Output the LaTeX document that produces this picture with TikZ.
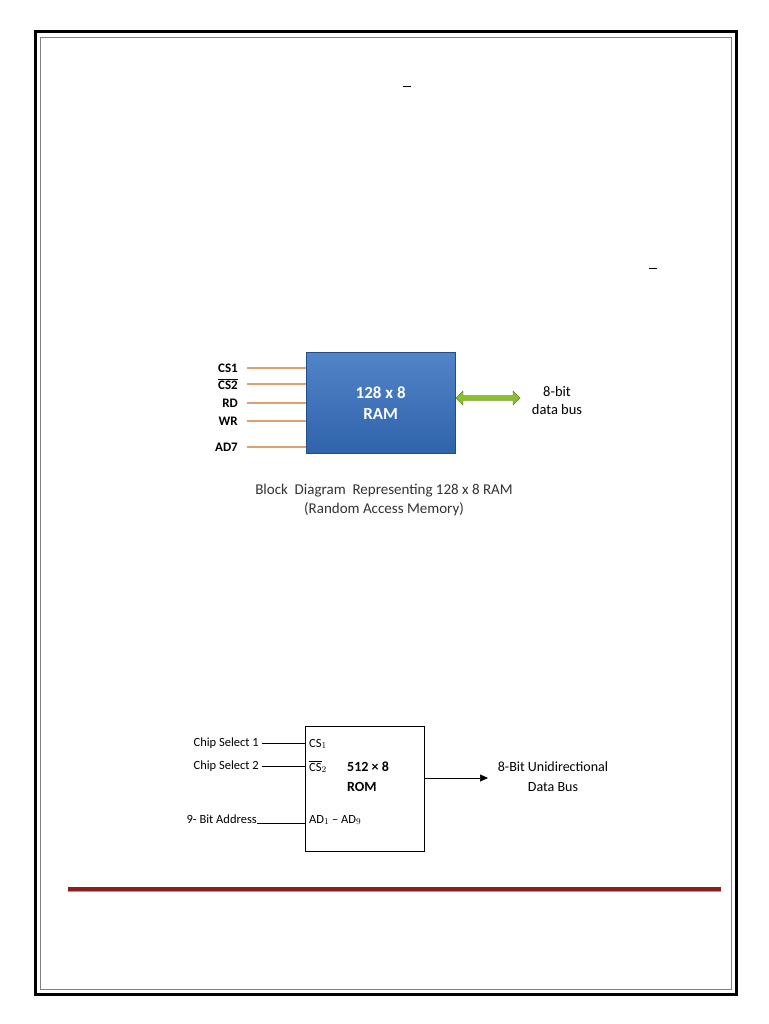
\documentclass[tikz,border=0pt]{standalone}
\usepackage{fontspec}
\setmainfont{Carlito}
\usetikzlibrary{arrows.meta,shapes.arrows}
\definecolor{ramblue}{RGB}{52,110,190}
\definecolor{wire}{RGB}{222,160,110}
\definecolor{busgreen}{RGB}{140,190,50}
\definecolor{rule}{RGB}{140,30,30}
\begin{document}
\begin{tikzpicture}[x=1pt,y=-1pt,
  lbl/.style={font=\fontsize{13}{15}\selectfont\bfseries,anchor=east,inner sep=0},
  wirel/.style={wire,line width=1.6pt},
  rl/.style={font=\fontsize{12.5}{15}\selectfont,inner sep=0},
  thinl/.style={line width=0.6pt}]
\useasboundingbox (0,0) rectangle (768,1024);
\fill[white] (0,0) rectangle (768,1024);
% page border
\draw[line width=3pt] (35,32) rectangle (736,994);
\draw[line width=0.6pt,gray] (40,37) rectangle (731,989);
\draw[thinl] (403,86) -- (411,86);
\draw[thinl] (649,268) -- (657,268);
% RAM
\node[draw=ramblue!70!black,top color=ramblue!85!white,bottom color=ramblue!90!black,minimum width=149pt,minimum height=101pt,inner sep=0,anchor=north west] (ram) at (306,352) {};
\node[text=white,font=\fontsize{17}{21}\selectfont\bfseries,align=center] (ramt) at (ram.center) {128 x 8\\RAM};
\foreach \n/\y/\t in {a/368/CS1,b/384/$\overline{\mbox{CS2}}$,c/403/RD,d/421/WR,e/447/AD7}{
  \coordinate (s\n) at (247,\y);
  \coordinate (e\n) at (306,\y);
  \draw[wirel] (s\n) -- (e\n);
  \node[lbl] (l\n) at (238,\y) {\t};
}
\node[double arrow,fill=busgreen,draw=busgreen!70!black,minimum width=14pt,double arrow head extend=3pt,minimum height=64pt,inner sep=1.5pt] (bus) at (488,398) {};
\node[align=center,inner sep=0,font=\fontsize{14.5}{18}\selectfont] (bust) at (557,401) {8-bit\\data bus};
\node[align=center,font=\fontsize{15}{19}\selectfont,text=black!80] (cap) at (384,500) {Block\ \ Diagram\ \ Representing 128 x 8 RAM\\(Random Access Memory)};
% ROM
\node[draw,thinl,minimum width=119pt,minimum height=125pt,inner sep=0,anchor=north west] (rom) at (305,726) {};
\node[rl,anchor=west] (c1) at (309,744) {CS$_1$};
\node[rl,anchor=west] (c2) at (309,767) {$\overline{\mbox{CS}}_2$};
\node[rl,anchor=west] (ad) at (309,820) {AD$_1$ -- AD$_9$};
\node[rl,anchor=west,font=\fontsize{14}{16}\selectfont\bfseries,align=left] (romt) at (347,777) {512 × 8\\[4pt]ROM};
\node[rl,anchor=east] (t1) at (259,743) {Chip Select 1};
\node[rl,anchor=east] (t2) at (259,766) {Chip Select 2};
\node[rl,anchor=east] (t3) at (257,819) {9- Bit Address};
\draw[thinl] (t1.east) ++(3,0) -- (rom.west |- t1);
\draw[thinl] (t2.east) ++(3,0) -- (rom.west |- t2);
\draw[thinl] (t3.south east) -- (rom.west |- t3.south east);
\coordinate (aend) at (488,778);
\draw[thinl,-{Triangle[length=8pt,width=7pt]}] (rom.east |- aend) -- (aend);
\node[align=center,inner sep=0,font=\fontsize{14}{20}\selectfont] (dbt) at (553,777) {8-Bit Unidirectional\\Data Bus};
% rule
\fill[rule] (68,887) rectangle (721,891);
\fill[rule!50!white] (68,891) rectangle (721,892);
\end{tikzpicture}
\end{document}
